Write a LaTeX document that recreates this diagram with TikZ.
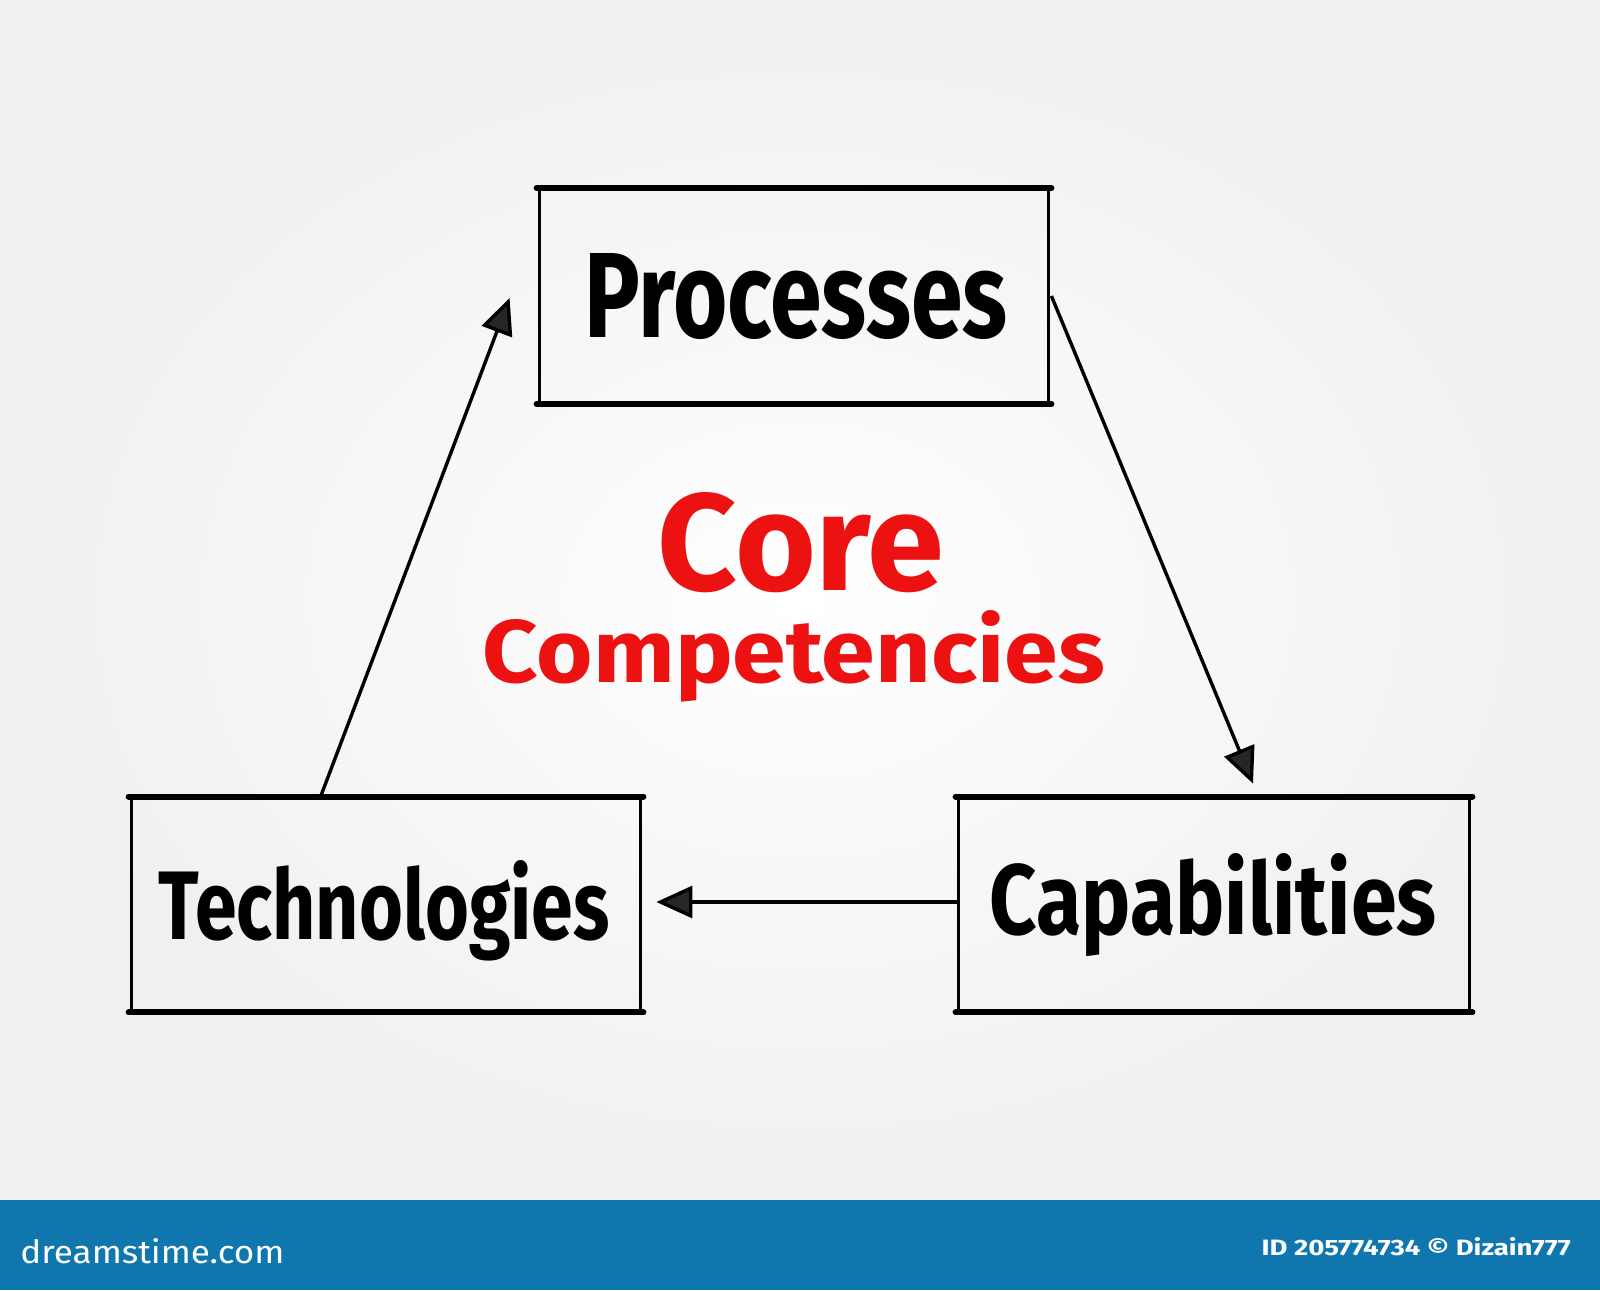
\documentclass[tikz,border=0pt]{standalone}
\usepackage{fontspec}
\setmainfont{Fira Sans}
\usetikzlibrary{arrows.meta,calc}
\definecolor{barblue}{RGB}{16,119,174}
\definecolor{corered}{RGB}{236,18,18}
\newlength{\pxu}\setlength{\pxu}{0.5pt}
\newcommand{\fitlbl}[3]{\resizebox{#1\pxu}{#2\pxu}{#3}}
\tikzset{
  boxnode/.style={rectangle, inner sep=0pt, minimum width=#1, minimum height=107.5pt},
  hline/.style={line width=3pt, line cap=round, black},
  vline/.style={line width=1.4pt, line cap=round, black},
  lbl/.style={inner sep=0pt, anchor=base},
  arr/.style={line width=1.7pt, black, -{Triangle[length=18pt,width=16pt,fill=black!85]}},
  footer/.style={inner sep=0pt, text=white}
}
\begin{document}
\begin{tikzpicture}[x=0.5pt,y=-0.5pt]
\useasboundingbox (0,0) rectangle (1600,1290);
% background
\shade[inner color=white, outer color=black!6] (0,0) rectangle (1600,1200);
\fill[barblue] (0,1200) rectangle (1600,1290);
% boxes
\node[boxnode=254pt] (pbox) at (794,296) {};
\node[boxnode=254pt] (tbox) at (386,904.5) {};
\node[boxnode=255pt] (cbox) at (1214,904.5) {};
\foreach \b in {pbox,tbox,cbox}{
  \draw[hline] ($(\b.north west)+(-3,0)$) -- ($(\b.north east)+(3,0)$);
  \draw[hline] ($(\b.south west)+(-3,0)$) -- ($(\b.south east)+(3,0)$);
  \draw[vline] (\b.north west) -- (\b.south west);
  \draw[vline] (\b.north east) -- (\b.south east);
}
% labels
\node[lbl] (ptext) at (796,337) {\fitlbl{423}{84}{\bfseries Processes}};
\node[lbl] (ttext) at (384,939) {\fitlbl{451}{79}{\bfseries Technologies}};
\node[lbl] (ctext) at (1213,934) {\fitlbl{447}{81}{\bfseries Capabilities}};
\node[lbl, text=corered] (core) at (801,590) {\fitlbl{286}{98}{\bfseries Core}};
\node[lbl, text=corered] (comp) at (794,682) {\fitlbl{622}{72}{\bfseries Competencies}};
% connectors
\draw[arr] ($(tbox.north west)+(189,0)$) -- ($(pbox.west)+(-30,2)$);
\draw[arr] ($(pbox.east)+(3,0)$) -- ($(cbox.north)+(39,-13)$);
\draw[arr] ($(cbox.west)+(0,-2.5)$) -- ($(tbox.east)+(16,-2.5)$);
% footer
\node[footer, anchor=base west] (brand) at (20,1263) {\fitlbl{264}{25}{dreamstime.com}};
\node[footer, anchor=base east] (idtxt) at (1571,1255) {\fitlbl{309}{18}{\bfseries ID 205774734 © Dizain777}};
\end{tikzpicture}
\end{document}
